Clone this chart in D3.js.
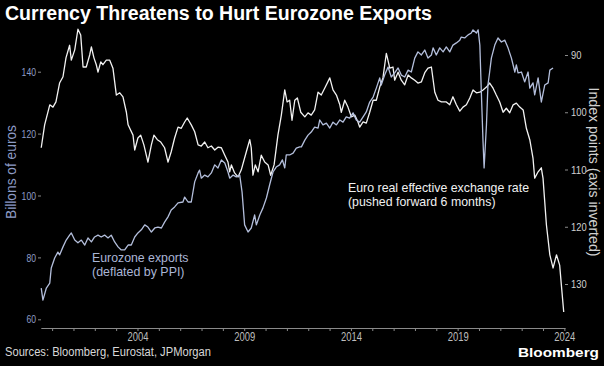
<!DOCTYPE html>
<html>
<head>
<meta charset="utf-8">
<script src="https://cdn.jsdelivr.net/npm/d3@7"></script>
<style>
  html, body { margin: 0; padding: 0; background: #000; }
  svg { display: block; }
  text { font-family: "Liberation Sans", Arial, sans-serif; }
</style>
</head>
<body>
<svg id="chart" width="604" height="366"></svg>
<script>
// ---------- data ----------
const exportsYears = [1999.49,1999.57,1999.73,1999.89,1999.96,2000.12,2000.27,2000.35,2000.51,2000.66,
  2000.82,2000.90,2001.06,2001.21,2001.37,2001.53,2001.68,2001.84,2001.99,2002.15,
  2002.30,2002.46,2002.62,2002.77,2002.93,2003.09,2003.24,2003.40,2003.56,2003.71,
  2003.87,2004.02,2004.18,2004.34,2004.49,2004.65,2004.81,2004.96,2005.12,2005.27,
  2005.43,2005.58,2005.74,2005.90,2006.13,2006.21,2006.37,2006.52,2006.68,2006.84,
  2006.91,2006.99,2007.15,2007.30,2007.46,2007.62,2007.77,2007.93,2008.09,2008.24,
  2008.32,2008.48,2008.63,2008.79,2008.90,2009.02,2009.18,2009.33,2009.49,2009.57,
  2009.73,2009.88,2010.04,2010.19,2010.35,2010.50,2010.66,2010.79,2010.90,2010.97,
  2011.13,2011.29,2011.44,2011.60,2011.68,2011.84,2011.99,2012.14,2012.30,2012.46,
  2012.54,2012.69,2012.85,2013.01,2013.16,2013.32,2013.48,2013.63,2013.78,2013.94,
  2014.10,2014.25,2014.41,2014.57,2014.72,2014.88,2015.04,2015.19,2015.35,2015.42,
  2015.58,2015.74,2015.89,2016.05,2016.21,2016.36,2016.52,2016.68,2016.83,2016.99,
  2017.14,2017.30,2017.46,2017.61,2017.77,2017.85,2018.00,2018.16,2018.32,2018.47,
  2018.63,2018.78,2018.94,2019.10,2019.17,2019.33,2019.49,2019.64,2019.72,2019.88,
  2019.96,2020.04,2020.11,2020.19,2020.24,2020.35,2020.42,2020.50,2020.58,2020.74,
  2020.89,2021.05,2021.21,2021.36,2021.52,2021.68,2021.75,2021.83,2021.99,2022.14,
  2022.30,2022.38,2022.53,2022.61,2022.77,2022.92,2023.08,2023.24,2023.32,2023.47];
const exportsValues = [70.1,66.2,70.1,71.7,76.6,79.8,81.7,80.8,83.4,85.6,
  87.2,87.9,85.6,84.7,85.6,84.0,86.3,85.0,86.6,87.2,
  86.6,87.2,86.3,87.2,85.0,83.4,82.4,82.4,84.0,84.0,
  86.6,87.9,88.9,90.5,89.8,88.2,89.5,89.8,89.5,91.4,
  93.1,95.3,96.3,97.6,97.9,99.5,97.9,97.9,104.4,107.3,
  108.2,105.6,106.6,106.0,107.3,109.9,108.9,111.5,110.5,107.6,
  105.6,106.6,106.0,106.6,101.1,90.5,88.2,89.5,93.7,90.5,
  93.7,96.0,99.2,103.4,107.6,109.2,109.9,111.5,108.9,113.1,
  113.1,113.7,115.3,115.7,115.7,117.9,119.5,120.5,122.1,121.8,
  124.4,122.8,123.4,121.8,123.7,122.8,124.4,123.7,125.4,125.0,
  126.7,124.4,123.7,125.4,127.0,130.2,131.8,134.7,138.0,135.7,
  138.9,141.5,138.3,139.6,141.2,138.9,138.3,140.5,139.9,144.4,
  146.4,145.4,147.0,144.4,145.4,147.7,145.4,147.7,146.4,148.0,
  146.4,148.6,149.3,150.2,151.2,150.9,151.9,152.5,153.5,152.5,
  153.5,148.6,133.5,117.3,108.9,122.8,135.7,139.9,144.4,148.6,
  150.9,149.6,150.2,147.7,144.4,139.9,142.2,139.6,139.9,136.7,
  139.9,134.7,136.4,132.5,138.0,130.2,135.7,136.4,140.5,141.2];

const rateYears = [1999.49,1999.65,1999.89,2000.04,2000.18,2000.35,2000.51,2000.65,2000.82,2000.90,
  2001.06,2001.21,2001.34,2001.45,2001.60,2001.76,2001.84,2001.96,2002.07,2002.15,
  2002.28,2002.38,2002.54,2002.70,2002.85,2003.01,2003.17,2003.32,2003.48,2003.56,
  2003.79,2003.87,2004.02,2004.15,2004.30,2004.49,2004.65,2004.77,2004.93,2005.09,
  2005.27,2005.43,2005.58,2005.74,2005.90,2006.05,2006.21,2006.33,2006.52,2006.68,
  2006.84,2006.99,2007.15,2007.30,2007.46,2007.62,2007.77,2007.93,2008.09,2008.24,
  2008.32,2008.40,2008.55,2008.71,2008.86,2009.10,2009.26,2009.33,2009.41,2009.52,
  2009.65,2009.80,2009.96,2010.12,2010.24,2010.40,2010.58,2010.74,2010.90,2011.01,
  2011.13,2011.24,2011.37,2011.49,2011.65,2011.84,2011.99,2012.14,2012.30,2012.46,
  2012.61,2012.77,2013.01,2013.16,2013.32,2013.48,2013.55,2013.71,2013.86,2014.02,
  2014.18,2014.33,2014.41,2014.57,2014.72,2014.88,2015.04,2015.19,2015.35,2015.50,
  2015.66,2015.82,2015.97,2016.05,2016.21,2016.36,2016.52,2016.68,2016.83,2016.99,
  2017.14,2017.30,2017.46,2017.61,2017.77,2017.93,2018.08,2018.24,2018.47,2018.63,
  2018.78,2018.94,2019.10,2019.25,2019.41,2019.57,2019.72,2019.88,2020.04,2020.19,
  2020.35,2020.50,2020.66,2020.81,2020.97,2021.13,2021.28,2021.44,2021.60,2021.75,
  2021.91,2022.07,2022.22,2022.38,2022.53,2022.61,2022.77,2022.92,2023.00,2023.16,
  2023.32,2023.47,2023.63,2023.78,2023.86,2023.97];
const rateValues = [106.2,102.2,98.7,99.1,98.2,94.9,93.8,90.5,88.3,90.9,
  89.1,85.5,86.5,92.1,92.1,90.0,88.6,90.5,91.7,93.0,
  91.2,91.7,90.9,90.9,92.3,97.0,96.6,97.3,100.0,102.2,
  104.0,106.6,104.5,104.0,105.7,108.7,105.7,104.0,104.8,105.2,
  106.2,108.7,106.9,104.5,102.6,102.8,101.7,101.0,102.2,103.4,
  105.7,105.9,105.2,106.2,105.9,106.6,106.1,106.2,107.5,108.7,
  110.4,109.2,110.6,111.3,110.1,106.9,104.8,106.2,111.0,109.2,
  110.4,107.5,108.7,109.2,111.0,109.2,104.0,100.5,96.1,98.2,
  97.9,101.4,97.9,97.5,100.0,100.8,100.1,100.5,99.6,96.5,
  97.0,95.8,94.0,96.1,97.0,98.7,100.0,97.9,99.1,100.8,
  100.5,101.7,102.6,101.7,101.9,100.0,97.9,97.9,95.6,94.0,
  89.7,92.3,92.1,94.4,93.0,94.4,95.2,93.5,94.0,94.4,
  94.9,94.7,93.1,92.3,92.1,96.5,97.9,98.2,98.2,98.7,
  97.3,98.7,99.8,99.1,98.7,97.5,96.1,96.6,96.5,96.1,
  95.6,94.9,95.8,97.0,98.2,100.0,99.3,100.1,98.7,98.4,
  99.1,99.6,102.8,104.8,108.0,111.5,110.4,109.7,111.5,119.7,
  124.9,127.2,124.9,126.7,130.2,134.9];

const yearTicks = [2004, 2009, 2014, 2019, 2024];
const minorYearTicks = d3.range(2000, 2025);
const leftTicks = [60, 80, 100, 120, 140];
const rightTicks = [90, 100, 110, 120, 130];

const titleText = "Currency Threatens to Hurt Eurozone Exports";
const sourceText = "Sources: Bloomberg, Eurostat, JPMorgan";
const leftAxisTitle = "Billons of euros";
const rightAxisTitle = "Index points (axis inverted)";
const exportsLabel = ["Eurozone exports", "(deflated by PPI)"];
const rateLabel = ["Euro real effective exchange rate", "(pushed forward 6 months)"];

// ---------- colours ----------
const C = {
  bg: "#000000",
  exports: "#b3bedb",
  rate: "#f2f2f2",
  leftText: "#8e9cc6",
  rightText: "#d0d0d0",
  axis: "#8a8a8a",
  xText: "#bdbdbd"
};

// ---------- scales ----------
const svg = d3.select("#chart");
svg.append("rect").attr("width", 604).attr("height", 366).attr("fill", C.bg);

const x = d3.scaleLinear().domain([1999.47, 2024.03]).range([40.8, 565]);
const yL = d3.scaleLinear().domain([60, 140]).range([319.3, 71.7]);
const yR = d3.scaleLinear().domain([90, 130]).range([55, 284]); // inverted axis

// ---------- lines ----------
const exportsData = exportsYears.map((d, i) => [d, exportsValues[i]]);
const rateData = rateYears.map((d, i) => [d, rateValues[i]]);

svg.append("path")
  .datum(rateData)
  .attr("fill", "none")
  .attr("stroke", C.rate)
  .attr("stroke-width", 1.3)
  .attr("stroke-linejoin", "round")
  .attr("d", d3.line().x(d => x(d[0])).y(d => yR(d[1])));

svg.append("path")
  .datum(exportsData)
  .attr("fill", "none")
  .attr("stroke", C.exports)
  .attr("stroke-width", 1.3)
  .attr("stroke-linejoin", "round")
  .attr("d", d3.line().x(d => x(d[0])).y(d => yL(d[1])));

// ---------- x axis ----------
const xAxisG = svg.append("g").attr("transform", "translate(0,328)")
  .call(d3.axisBottom(x).tickValues(minorYearTicks).tickSize(3).tickSizeOuter(0)
    .tickFormat(d => String(d)));
xAxisG.select(".domain").attr("stroke", C.axis);
xAxisG.selectAll(".tick line").attr("stroke", C.axis);
xAxisG.selectAll(".tick text").filter(d => !yearTicks.includes(d)).remove();
xAxisG.selectAll(".tick text")
  .attr("fill", C.xText)
  .attr("font-size", 12)
  .attr("dy", null)
  .attr("y", 12.5)
  .attr("textLength", 21).attr("lengthAdjust", "spacingAndGlyphs");

// ---------- left axis ----------
const lAxisG = svg.append("g").attr("transform", "translate(41,0)")
  .call(d3.axisLeft(yL).tickValues(leftTicks).tickSize(3).tickPadding(2));
lAxisG.select(".domain").remove();
lAxisG.selectAll(".tick line").attr("stroke", C.axis);
lAxisG.selectAll(".tick text").attr("fill", C.leftText).attr("font-size", 11.5)
  .attr("textLength", d => String(d).length * 4.8).attr("lengthAdjust", "spacingAndGlyphs");

// ---------- right axis ----------
const rAxisG = svg.append("g").attr("transform", "translate(565,0)")
  .call(d3.axisRight(yR).tickValues(rightTicks).tickSize(3).tickPadding(3));
rAxisG.select(".domain").remove();
rAxisG.selectAll(".tick line").attr("stroke", C.axis);
rAxisG.selectAll(".tick text").attr("fill", C.rightText).attr("font-size", 11.5)
  .attr("textLength", d => String(d).length * 5.2).attr("lengthAdjust", "spacingAndGlyphs");

// ---------- axis titles ----------
svg.append("text")
  .attr("transform", "translate(16,172) rotate(-90)")
  .attr("text-anchor", "middle")
  .attr("fill", C.leftText)
  .attr("font-size", 14)
  .attr("textLength", 94).attr("lengthAdjust", "spacingAndGlyphs")
  .text(leftAxisTitle);

svg.append("text")
  .attr("transform", "translate(589,172) rotate(90)")
  .attr("text-anchor", "middle")
  .attr("fill", C.rightText)
  .attr("font-size", 14)
  .attr("textLength", 169).attr("lengthAdjust", "spacingAndGlyphs")
  .text(rightAxisTitle);

// ---------- annotations ----------
const expLbl = svg.append("text").attr("fill", "#aab6d6").attr("font-size", 13);
exportsLabel.forEach((t, i) => {
  expLbl.append("tspan").attr("x", 92).attr("y", 262 + i * 13.5)
    .attr("textLength", i === 0 ? 96.5 : 92.5).attr("lengthAdjust", "spacingAndGlyphs").text(t);
});
const rateLbl = svg.append("text").attr("fill", "#f0f0f0").attr("font-size", 13);
rateLabel.forEach((t, i) => {
  rateLbl.append("tspan").attr("x", 348).attr("y", 192 + i * 13.5)
    .attr("textLength", i === 0 ? 181 : 147.5).attr("lengthAdjust", "spacingAndGlyphs").text(t);
});

// ---------- title / footer ----------
svg.append("text")
  .attr("x", 5).attr("y", 19.5)
  .attr("fill", "#ffffff")
  .attr("font-size", 19.5)
  .attr("font-weight", "bold")
  .attr("textLength", 427).attr("lengthAdjust", "spacingAndGlyphs")
  .text(titleText);

svg.append("text")
  .attr("x", 5).attr("y", 356)
  .attr("fill", "#d8d8d8")
  .attr("font-size", 12.5)
  .attr("textLength", 206).attr("lengthAdjust", "spacingAndGlyphs")
  .text(sourceText);

svg.append("text")
  .attr("x", 599).attr("y", 356.5)
  .attr("text-anchor", "end")
  .attr("fill", "#ffffff")
  .attr("font-size", 13.5)
  .attr("font-weight", "bold")
  .attr("textLength", 81).attr("lengthAdjust", "spacingAndGlyphs")
  .text("Bloomberg");
</script>
</body>
</html>
